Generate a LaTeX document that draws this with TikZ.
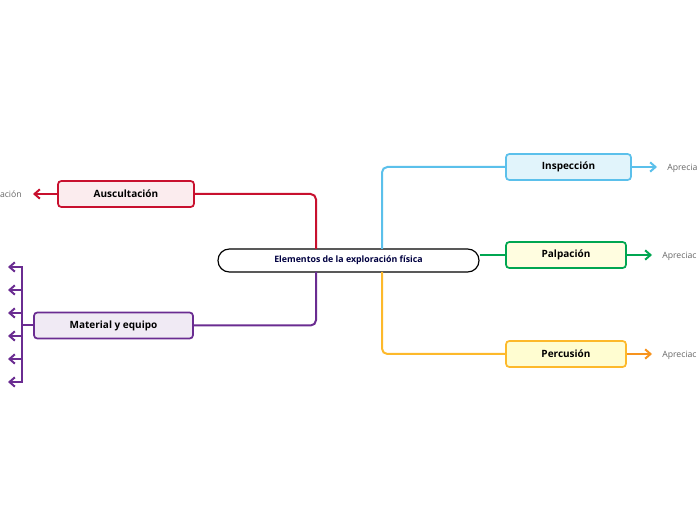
\documentclass[tikz,border=0pt]{standalone}
\usepackage{fontspec}
\setmainfont{Open Sans}
\usetikzlibrary{arrows.meta}
\begin{document}
\begin{tikzpicture}[x=0.75pt,y=-0.75pt,
  box/.style={draw,line width=1.3pt,rounded corners=2.5pt,minimum height=19.5pt,font=\fontsize{7.5}{9}\selectfont\bfseries,inner sep=0pt},
  con/.style={line width=1.5pt,rounded corners=4pt},
  arr/.style={line width=1.5pt,-{Straight Barb[length=4pt,width=7pt]}},
  lbl/.style={font=\fontsize{6.5}{8}\selectfont,text=black!60,inner sep=0pt}]
\useasboundingbox (0,0) rectangle (697,520);
\definecolor{cblue}{HTML}{5BC0EB}\definecolor{cgreen}{HTML}{00A651}
\definecolor{cyel}{HTML}{FDB92B}\definecolor{cred}{HTML}{C8102E}
\definecolor{cpur}{HTML}{6A2C91}\definecolor{corg}{HTML}{F7931E}
\node[draw,line width=0.9pt,rounded corners=8.5pt,minimum width=195.75pt,minimum height=17.25pt,inner sep=0pt,font=\fontsize{6.6}{8}\selectfont\bfseries,text=blue!25!black] (c) at (348.5,260.5) {Elementos de la exploración física};
\node[box,draw=cblue,fill=cblue!18,minimum width=93.75pt] (ins) at (568.5,167) {Inspección};
\node[box,draw=cgreen,fill=yellow!12,minimum width=90pt] (pal) at (566,255) {Palpación};
\node[box,draw=cyel,fill=yellow!18,minimum width=90pt] (per) at (566,354) {Percusión};
\node[box,draw=cred,fill=cred!8,minimum width=102pt] (aus) at (126,194) {Auscultación};
\node[box,draw=cpur,fill=cpur!10,minimum width=119.25pt] (mat) at (113.5,325.5) {Material y equipo};
\draw[con,cblue] (382,249) |- (ins.west);
\draw[con,cyel] (382,272) |- (per.west);
\draw[con,cgreen] (c.east|-pal) -- (pal.west);
\draw[con,cred] (316,249) |- (aus.east);
\draw[con,cpur] (316,272) |- (mat.east);
\node[lbl,anchor=west] (t1) at (667,168) {Apreciación};
\node[lbl,anchor=west] (t2) at (662,256) {Apreciación};
\node[lbl,anchor=west] (t3) at (662,355) {Apreciación};
\node[lbl,anchor=east] (t4) at (22,195) {Apreciación};
\draw[arr,cblue] (ins.east) -- (657,167);
\draw[arr,cgreen] (pal.east) -- (652,255);
\draw[arr,corg] (per.east) -- (652,354);
\draw[arr,cred] (aus.west) -- (33,194);
\coordinate (j) at (22,325.5);
\draw[line width=1.5pt,cpur] (mat.west) -- (j);
\draw[line width=1.5pt,cpur] (22,266.5) -- (22,383);
\foreach \y in {267,290,313,336,359,382}
  \draw[arr,cpur] (22,\y) -- (8,\y);
\end{tikzpicture}
\end{document}
